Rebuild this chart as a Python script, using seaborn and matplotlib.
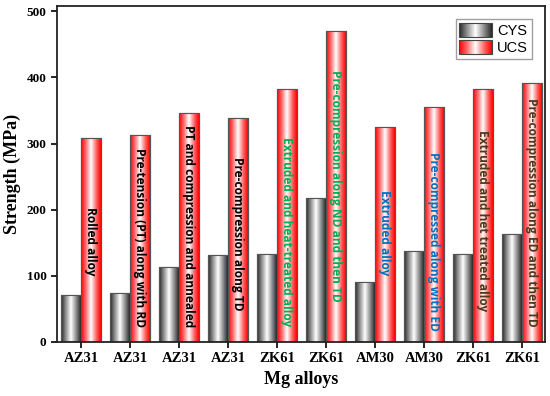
import numpy as np
import pandas as pd
import matplotlib
matplotlib.use("Agg")
import matplotlib.pyplot as plt
import seaborn as sns
from matplotlib.colors import LinearSegmentedColormap
from matplotlib.patches import Rectangle
from matplotlib.legend_handler import HandlerBase
from matplotlib.image import BboxImage
from matplotlib.transforms import Bbox, TransformedBbox

# ---- data ----
alloys = ["AZ31", "AZ31", "AZ31", "AZ31", "ZK61", "ZK61", "AM30", "AM30", "ZK61", "ZK61"]
cys = [71, 74, 113, 132, 133, 218, 90, 137, 133, 163]
ucs = [308, 313, 346, 339, 382, 470, 325, 355, 382, 392]
labels = ["Rolled alloy",
          "Pre-tension (PT) along with RD",
          "PT and compression and annealed",
          "Pre-compression along TD",
          "Extruded and heat-treated alloy",
          "Pre-compression along ND and then TD",
          "Extruded alloy",
          "Pre-compressed along with ED",
          "Extruded and het treated alloy",
          "Pre-compression along ED and then TD"]
label_colors = ["black"] * 4 + ["#00b050"] * 2 + ["#0070c0"] * 2 + ["#4a3a1a"] * 2
label_tops = [204, 293, 328, 279, 310, 411, 230, 287, 320, 369]
series = ["CYS", "UCS"]
yticks = [0, 100, 200, 300, 400, 500]

n = len(alloys)
df = pd.DataFrame({
    "idx": list(range(n)) * 2,
    "value": cys + ucs,
    "series": ["CYS"] * n + ["UCS"] * n,
})

gray_cmap = LinearSegmentedColormap.from_list(
    "g", [(0.0, "#262626"), (0.5, "#ffffff"), (1.0, "#262626")])
red_cmap = LinearSegmentedColormap.from_list(
    "r", [(0.0, "#ff0000"), (0.22, "#ff6060"), (0.5, "#ffffff"), (0.78, "#ff6060"), (1.0, "#ff0000")])
grad = np.linspace(0, 1, 256).reshape(1, -1)

fig = plt.figure(figsize=(5.5, 3.96), dpi=100)
ax = fig.add_axes([0.1036, 0.1364, 0.8873, 0.8485])
sns.barplot(data=df, x="idx", y="value", hue="series", hue_order=series,
            palette={"CYS": "#888888", "UCS": "#ff0000"}, width=0.8, saturation=1,
            dodge=True, ax=ax, legend=False, edgecolor="#444444", linewidth=0.8)

bars = list(ax.patches)
for k, p in enumerate(bars):
    x0, y0 = p.get_x(), p.get_y()
    w, h = p.get_width(), p.get_height()
    cmap = gray_cmap if k < n else red_cmap
    im = ax.imshow(grad, cmap=cmap, aspect="auto", extent=[x0, x0 + w, y0, y0 + h],
                   zorder=p.get_zorder() + 0.1, interpolation="bilinear")
    im.set_clip_path(p)
    ax.add_patch(Rectangle((x0, y0), w, h, facecolor="none", edgecolor="#555555",
                           linewidth=0.8, zorder=p.get_zorder() + 0.2))

for i in range(n):
    ax.text(i + 0.2, label_tops[i], labels[i], rotation=-90, ha="center", va="top",
            color=label_colors[i], fontsize=8.6, family="Open Sans", fontweight="bold",
            zorder=10)

ax.set_xlim(-0.49, 9.47)
ax.set_ylim(0, 508)
ax.set_yticks(yticks)
ax.set_yticklabels([str(t) for t in yticks])
ax.set_xticks(range(n))
ax.set_xticklabels(alloys)
for lab in ax.get_xticklabels() + ax.get_yticklabels():
    lab.set_family("Liberation Serif")
    lab.set_fontweight("bold")
for lab in ax.get_xticklabels():
    lab.set_fontsize(10.5)
for lab in ax.get_yticklabels():
    lab.set_fontsize(9.5)
ax.tick_params(axis="both", direction="out", length=4, width=1.2, colors="black")
ax.set_xlabel("Mg alloys", family="Liberation Serif", fontweight="bold", fontsize=13, labelpad=4)
ax.set_ylabel("Strength (MPa)", family="Liberation Serif", fontweight="bold", fontsize=13, labelpad=4)
for s in ax.spines.values():
    s.set_visible(True)
    s.set_color("#222222")
    s.set_linewidth(1.3)


class GradHandler(HandlerBase):
    def __init__(self, cmap):
        super().__init__()
        self.cmap = cmap

    def create_artists(self, legend, orig_handle, xdescent, ydescent, width, height,
                       fontsize, trans):
        bb = TransformedBbox(Bbox.from_bounds(-xdescent, -ydescent, width, height), trans)
        img = BboxImage(bb, cmap=self.cmap, interpolation="bilinear")
        img.set_data(grad)
        rect = Rectangle((-xdescent, -ydescent), width, height, transform=trans,
                         facecolor="none", edgecolor="#444444", linewidth=0.8)
        return [img, rect]


h1 = Rectangle((0, 0), 1, 1, label="CYS")
h2 = Rectangle((0, 0), 1, 1, label="UCS")
leg = ax.legend([h1, h2], series, loc="upper right",
                handler_map={h1: GradHandler(gray_cmap), h2: GradHandler(red_cmap)},
                prop={"family": "Liberation Sans", "size": 10.5},
                frameon=True, fancybox=False, edgecolor="#888888",
                handlelength=2.2, handleheight=1.1, handletextpad=0.4,
                borderpad=0.25, labelspacing=0.15, borderaxespad=0.9)
leg.get_frame().set_linewidth(1.0)

fig.savefig("out.png", dpi=100)
